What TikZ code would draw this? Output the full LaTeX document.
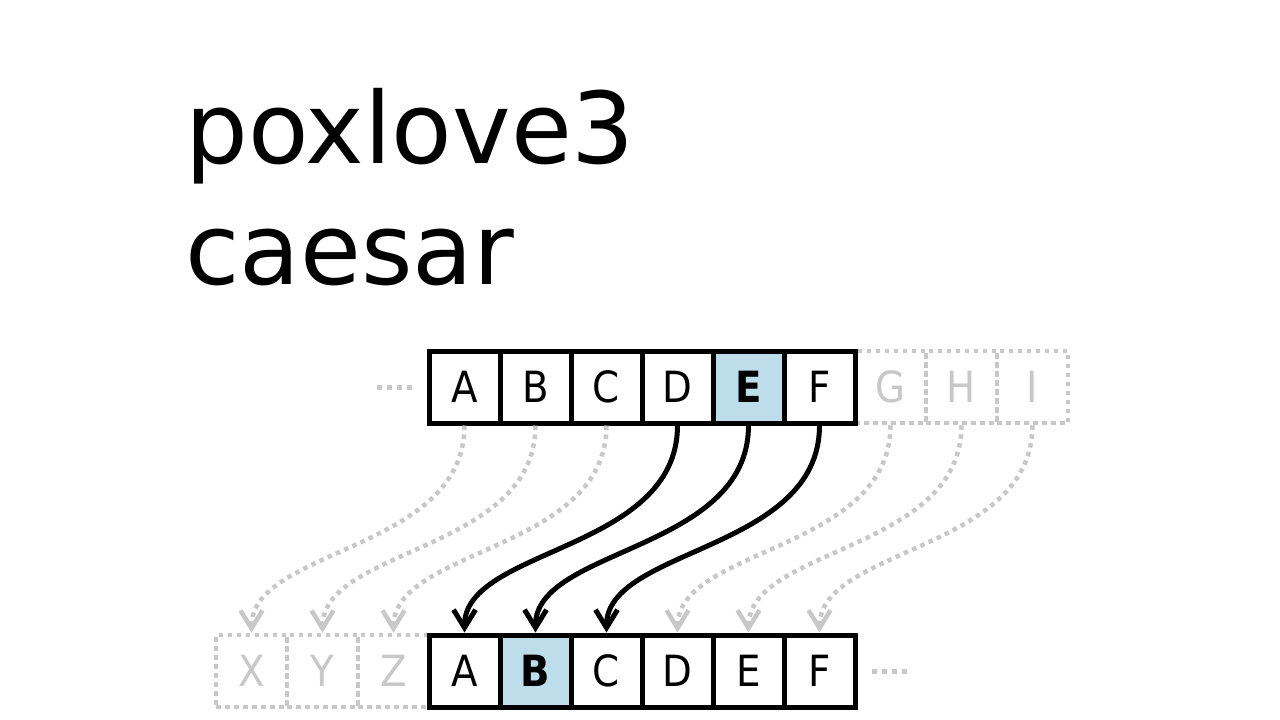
\documentclass[tikz,border=0pt]{standalone}
\usepackage{fontspec}
\setmainfont{DejaVu Sans}
\newfontfamily\cellfont{DejaVu Sans Condensed}
\usetikzlibrary{arrows.meta}
\definecolor{hl}{HTML}{BCDDE9}
\definecolor{ghost}{HTML}{C8C8C8}
\begin{document}
\begin{tikzpicture}[x=1pt,y=-1pt,
  cell/.style={draw=black, line width=5pt, minimum width=71pt, minimum height=72pt,
    inner sep=0pt, fill=white, font=\cellfont\fontsize{43}{43}\selectfont},
  hot/.style={cell, fill=hl, font=\cellfont\bfseries\fontsize{43}{43}\selectfont},
  ghostcell/.style={draw=ghost, line width=4.5pt, dash pattern=on 4.5pt off 4.5pt,
    minimum width=71pt, minimum height=72pt, inner sep=0pt, text=ghost,
    font=\cellfont\fontsize{43}{43}\selectfont},
  mapline/.style={draw=black, line width=5pt, -{Straight Barb[length=18pt,width=22pt]}},
  ghostline/.style={mapline, draw=ghost, line width=4.5pt, dash pattern=on 4.5pt off 4.5pt},
  moredots/.style={draw=ghost, line width=5pt, dash pattern=on 5pt off 5pt},
  titletext/.style={anchor=base west, inner sep=0pt, font=\fontsize{99}{120}\selectfont}]
\useasboundingbox (0,0) rectangle (1280,720);

% title
\node[titletext] (t1) at (185,163) {poxlove3};
\node[titletext] (t2) at (185,284) {caesar};

% top row
\node[ghostcell] (tG) at (890.5,387) {G};
\node[ghostcell] (tH) at (961.5,387) {H};
\node[ghostcell] (tI) at (1032.5,387) {I};
\node[cell] (tA) at (464.5,387) {A};
\node[cell] (tB) at (535.5,387) {B};
\node[cell] (tC) at (606.5,387) {C};
\node[cell] (tD) at (677.5,387) {D};
\node[hot]  (tE) at (748.5,387) {E};
\node[cell] (tF) at (819.5,387) {F};

% bottom row
\node[ghostcell] (bX) at (251.5,671) {X};
\node[ghostcell] (bY) at (322.5,671) {Y};
\node[ghostcell] (bZ) at (393.5,671) {Z};
\node[cell] (bA) at (464.5,671) {A};
\node[hot]  (bB) at (535.5,671) {B};
\node[cell] (bC) at (606.5,671) {C};
\node[cell] (bD) at (677.5,671) {D};
\node[cell] (bE) at (748.5,671) {E};
\node[cell] (bF) at (819.5,671) {F};

% ellipses
\coordinate (l1) at (377,387);
\coordinate (l2) at (412,387);
\coordinate (r1) at (872,671);
\coordinate (r2) at (907,671);
\draw[moredots] (l1) -- (l2);
\draw[moredots] (r1) -- (r2);

% ghost arrows
\foreach \s/\t in {tA/bX, tB/bY, tC/bZ, tG/bD, tH/bE, tI/bF}
  \draw[ghostline] (\s.south) .. controls +(0,126) and +(0,-85) .. (\t.north);

% main arrows
\foreach \s/\t in {tD/bA, tE/bB, tF/bC}
  \draw[mapline] (\s.south) .. controls +(0,126) and +(0,-85) .. (\t.north);
\end{tikzpicture}
\end{document}
